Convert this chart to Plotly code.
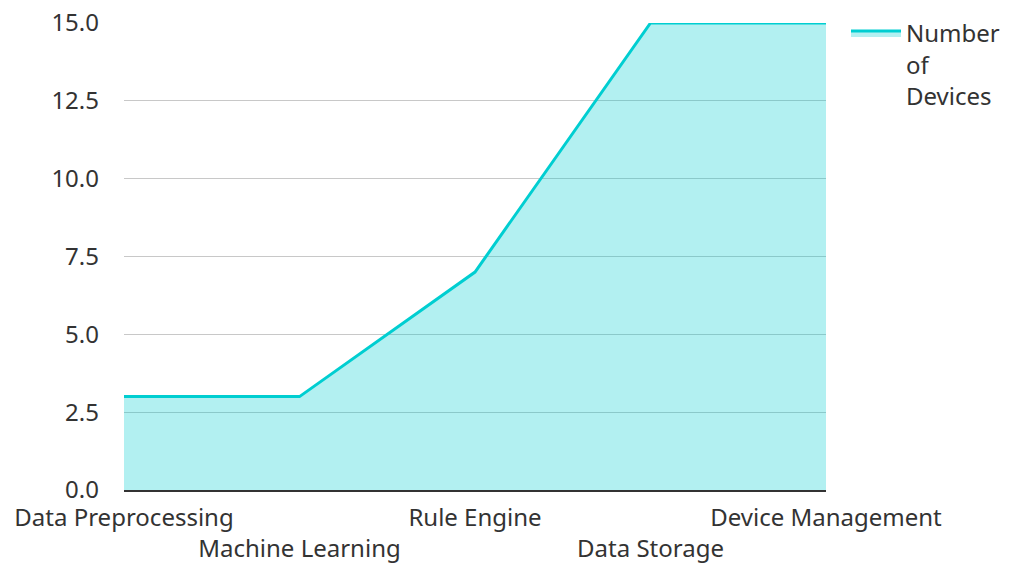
import plotly.graph_objects as go

categories = ["Data Preprocessing", "Machine Learning", "Rule Engine", "Data Storage", "Device Management"]
values = [3, 3, 7, 15, 15]
y_ticks = [0, 2.5, 5, 7.5, 10, 12.5, 15]
series_name = "Number<br>of<br>Devices"

ticktext = [c if i % 2 == 0 else "<br>" + c for i, c in enumerate(categories)]

fig = go.Figure()
fig.add_trace(go.Scatter(
    x=categories, y=values, mode="lines", name=series_name,
    line=dict(color="#00CED1", width=3),
    fill="tozeroy", fillcolor="rgba(0,206,209,0.3)",
))

font = dict(family="Noto Sans, Open Sans, sans-serif", size=24, color="#333333")
fig.update_layout(
    width=1010, height=564,
    margin=dict(l=116, r=192, t=15, b=82),
    paper_bgcolor="white", plot_bgcolor="white",
    font=font,
    showlegend=True,
    legend=dict(xref="container", yref="container", x=0.8297, y=0.9947,
                xanchor="left", yanchor="top", font=font, valign="top",
                bgcolor="rgba(0,0,0,0)", itemwidth=50),
    xaxis=dict(type="category", range=[0, len(categories) - 1],
               tickvals=categories, ticktext=ticktext, tickangle=0,
               automargin=False, ticklabelstandoff=5, ticklabeloverflow="allow",
               showgrid=False, showline=True, linecolor="#333333", linewidth=2,
               ticks="", zeroline=False, tickfont=font),
    yaxis=dict(range=[0, 15], tickvals=y_ticks, tickformat=".1f",
               automargin=False, ticklabelstandoff=24, ticklabeloverflow="allow",
               showgrid=True, gridcolor="#c8c8c8", gridwidth=1,
               showline=False, zeroline=False, ticks="", tickfont=font),
)
fig.write_html("out.html")
